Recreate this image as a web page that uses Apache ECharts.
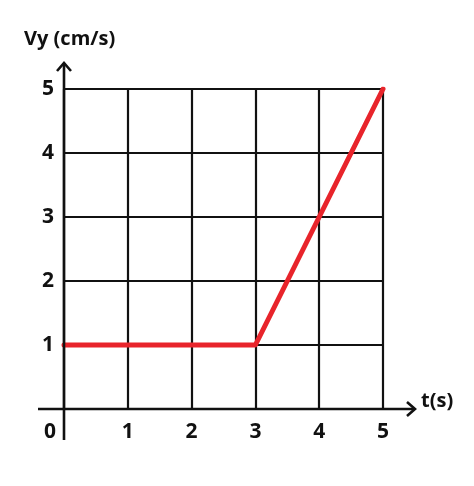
<!DOCTYPE html>
<html>
<head>
<meta charset="utf-8">
<script src="https://cdn.jsdelivr.net/npm/echarts@6/dist/echarts.min.js"></script>
<style>html,body{margin:0;padding:0;background:#fff}#c{width:474px;height:486px}</style>
</head>
<body>
<div id="c"></div>
<script>
var tValues = [0, 3, 5];
var vyValues = [1, 1, 5];
var xTickLabels = ['0', '1', '2', '3', '4', '5'];
var yTickLabels = ['0', '1', '2', '3', '4', '5'];
var yTitle = 'Vy (cm/s)';
var xTitle = 't(s)';

var FONT = '"Open Sans", sans-serif';
var chart = echarts.init(document.getElementById('c'));
var points = tValues.map(function (t, i) { return [t, vyValues[i]]; });

chart.setOption({
  animation: false,
  grid: { left: 64, top: 89, width: 319, height: 320, containLabel: false },
  xAxis: {
    type: 'value', min: 0, max: 5, interval: 1,
    axisLine: { show: false }, axisTick: { show: false },
    splitLine: { show: true, lineStyle: { color: '#111', width: 2.2 } },
    axisLabel: {
      margin: 13, color: '#111', fontFamily: FONT, fontSize: 21, fontWeight: 'bold',
      formatter: function (v) {
        var s = xTickLabels[Math.round(v)];
        return v === 0 ? '{z|' + s + '}' : s;
      },
      rich: { z: { padding: [0, 28, 0, 0], color: '#111', fontFamily: FONT, fontSize: 21, fontWeight: 'bold' } }
    }
  },
  yAxis: {
    type: 'value', min: 0, max: 5, interval: 1,
    axisLine: { show: false }, axisTick: { show: false },
    splitLine: { show: true, lineStyle: { color: '#111', width: 2.2 } },
    axisLabel: {
      margin: 10, color: '#111', fontFamily: FONT, fontSize: 21, fontWeight: 'bold',
      padding: [8, 0, 0, 0],
      formatter: function (v) { return v === 0 ? '' : yTickLabels[Math.round(v)]; }
    }
  },
  series: [{
    type: 'line', data: points, symbol: 'none', z: 5,
    lineStyle: { color: '#e8242b', width: 5, cap: 'round', join: 'round' }
  }]
});

var o = chart.convertToPixel({ gridIndex: 0 }, [0, 0]);
var m = chart.convertToPixel({ gridIndex: 0 }, [5, 5]);
var ax = { stroke: '#111', lineWidth: 2.6 };
var xEnd = m[0] + 32, yEnd = m[1] - 26;
chart.setOption({
  graphic: [
    { type: 'line', z: 10, shape: { x1: o[0] - 26, y1: o[1], x2: xEnd, y2: o[1] }, style: ax },
    { type: 'polyline', z: 10, shape: { points: [[xEnd - 8, o[1] - 7], [xEnd, o[1]], [xEnd - 8, o[1] + 7]] }, style: { stroke: '#111', lineWidth: 2.6, fill: null } },
    { type: 'line', z: 10, shape: { x1: o[0], y1: o[1] + 31, x2: o[0], y2: yEnd }, style: ax },
    { type: 'polyline', z: 10, shape: { points: [[o[0] - 7, yEnd + 8], [o[0], yEnd], [o[0] + 7, yEnd + 8]] }, style: { stroke: '#111', lineWidth: 2.6, fill: null } },
    { type: 'text', z: 10, left: 24, top: 29, style: { text: yTitle, fill: '#111', font: 'bold 20px "Open Sans", sans-serif' } },
    { type: 'text', z: 10, left: xEnd + 6, top: o[1] - 18, style: { text: xTitle, fill: '#111', font: 'bold 20px "Open Sans", sans-serif' } }
  ]
});
</script>
</body>
</html>
